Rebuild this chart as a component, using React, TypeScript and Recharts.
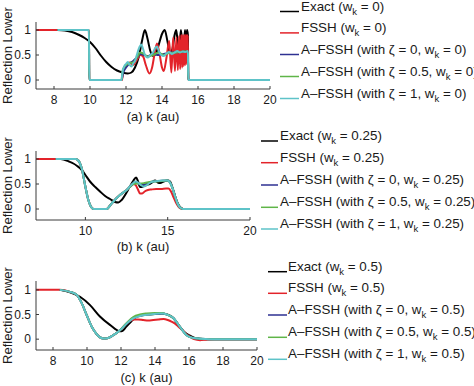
import React from 'react';
import { LineChart, Line, XAxis, YAxis, Label } from 'recharts';

type P = [number, number];

// ---------- Panel (a): w_k = 0 ----------
const exactA: P[] = [
  [8.2, 1], [8.6, 0.99], [9.0, 0.96], [9.4, 0.9], [9.7, 0.84], [10.0, 0.76], [10.3, 0.64], [10.6, 0.49],
  [10.9, 0.36], [11.2, 0.26], [11.5, 0.19], [11.8, 0.15], [12.1, 0.13], [12.3, 0.15], [12.5, 0.25],
  [12.7, 0.45], [12.9, 0.8], [13.05, 1.0], [13.2, 0.82], [13.35, 0.58], [13.5, 0.48], [13.65, 0.52],
  [13.8, 0.68], [14.0, 0.92], [14.15, 1.0], [14.3, 0.78], [14.45, 0.54], [14.58, 0.62], [14.7, 0.9],
  [14.79, 1.0], [14.88, 0.72], [14.95, 0.6], [15.05, 1.0], [15.14, 0.7], [15.2, 0.66], [15.28, 1.0],
  [15.33, 0.7], [15.39, 1.0], [15.44, 0.9], [15.46, 0], [20, 0],
];
const fsshA: P[] = [
  [7, 1], [9.94, 1], [9.96, 0], [11.78, 0], [11.85, 0.2], [12.0, 0.3], [12.2, 0.35], [12.4, 0.3],
  [12.6, 0.4], [12.8, 0.5], [12.95, 0.47], [13.1, 0.3], [13.3, 0.13], [13.45, 0.25], [13.6, 0.55],
  [13.72, 0.73], [13.85, 0.55], [14.0, 0.25], [14.1, 0.18], [14.25, 0.45], [14.4, 0.78], [14.52, 0.15],
  [14.62, 0.85], [14.72, 0.18], [14.8, 0.85], [14.88, 0.2], [14.95, 0.88], [15.01, 0.22], [15.07, 0.9],
  [15.12, 0.25], [15.17, 0.9], [15.21, 0.28], [15.25, 0.9], [15.29, 0.3], [15.32, 0.9], [15.35, 0.32],
  [15.38, 0.9], [15.41, 0.35], [15.43, 0.9], [15.46, 0], [20, 0],
];
const afssh0A: P[] = [
  [8.2, 1], [9.94, 1], [9.96, 0], [11.75, 0], [11.85, 0.15], [12.0, 0.25], [12.2, 0.33], [12.4, 0.38],
  [12.6, 0.45], [12.8, 0.52], [13.0, 0.5], [13.2, 0.48], [13.5, 0.52], [13.8, 0.5], [14.1, 0.52],
  [14.5, 0.55], [15.0, 0.56], [15.44, 0.57], [15.46, 0], [20, 0],
];
const afssh05A: P[] = [
  [8.2, 1], [9.94, 1], [9.96, 0], [11.75, 0], [11.82, 0.2], [12.0, 0.3], [12.2, 0.34], [12.4, 0.35],
  [12.6, 0.45], [12.8, 0.55], [13.0, 0.52], [13.2, 0.47], [13.5, 0.5], [13.8, 0.55], [14.1, 0.5],
  [14.4, 0.54], [14.8, 0.55], [15.2, 0.57], [15.44, 0.57], [15.46, 0], [20, 0],
];
const afssh1A: P[] = [
  [8.2, 1], [9.94, 1], [9.96, 0], [11.75, 0], [11.8, 0.15], [11.9, 0.27], [12.0, 0.32], [12.1, 0.36],
  [12.2, 0.3], [12.3, 0.27], [12.4, 0.33], [12.5, 0.38], [12.6, 0.5], [12.75, 0.66], [12.85, 0.71],
  [12.95, 0.62], [13.05, 0.5], [13.2, 0.45], [13.35, 0.5], [13.5, 0.55], [13.62, 0.64], [13.72, 0.67],
  [13.82, 0.58], [13.95, 0.5], [14.1, 0.48], [14.25, 0.53], [14.4, 0.56], [14.55, 0.52], [14.7, 0.55],
  [14.85, 0.58], [15.0, 0.55], [15.15, 0.57], [15.3, 0.56], [15.44, 0.58], [15.46, 0], [20, 0],
];

// ---------- Panel (b): w_k = 0.25 ----------
const exactB: P[] = [
  [8.2, 1], [8.5, 1.0], [9.0, 0.95], [9.27, 0.91], [9.5, 0.86], [9.78, 0.78], [10.0, 0.68], [10.28, 0.55],
  [10.6, 0.44], [10.89, 0.35], [11.2, 0.26], [11.5, 0.2], [11.8, 0.14], [12.0, 0.13], [12.2, 0.18],
  [12.5, 0.33], [12.7, 0.45], [12.9, 0.56], [13.08, 0.63], [13.2, 0.55], [13.32, 0.44], [13.5, 0.45],
  [13.7, 0.48], [13.9, 0.5], [14.05, 0.53], [14.23, 0.57], [14.4, 0.53], [14.55, 0.52], [14.75, 0.55],
  [15.0, 0.57], [15.14, 0.55], [15.3, 0.42], [15.45, 0.26], [15.6, 0.12], [15.75, 0.04], [15.95, 0], [20, 0],
];
const fsshB: P[] = [
  [7, 1], [9.4, 1], [9.57, 0.97], [9.78, 0.81], [9.98, 0.48], [10.18, 0.18], [10.33, 0.05], [10.5, 0],
  [11.29, 0], [11.5, 0.07], [11.7, 0.15], [11.9, 0.22], [12.1, 0.28], [12.3, 0.33], [12.51, 0.38],
  [12.7, 0.44], [12.91, 0.5], [13.05, 0.48], [13.18, 0.4], [13.32, 0.31], [13.45, 0.31], [13.6, 0.35],
  [13.8, 0.38], [14.0, 0.39], [14.3, 0.4], [14.6, 0.4], [14.9, 0.41], [15.05, 0.41], [15.2, 0.35],
  [15.35, 0.24], [15.5, 0.13], [15.65, 0.05], [15.8, 0.01], [15.95, 0], [20, 0],
];
const afssh0B: P[] = [
  [8.2, 1], [9.4, 1], [9.57, 0.97], [9.78, 0.81], [9.98, 0.48], [10.18, 0.18], [10.33, 0.05], [10.5, 0],
  [11.29, 0], [11.5, 0.07], [11.7, 0.15], [11.9, 0.22], [12.1, 0.28], [12.3, 0.33], [12.51, 0.38],
  [12.7, 0.44], [12.91, 0.5], [13.05, 0.53], [13.3, 0.5], [13.55, 0.49], [13.8, 0.52], [14.1, 0.55],
  [14.5, 0.56], [15.0, 0.57], [15.14, 0.53], [15.3, 0.41], [15.44, 0.26], [15.6, 0.11], [15.75, 0.03],
  [15.95, 0], [20, 0],
];
const afssh05B: P[] = [
  [8.2, 1], [9.4, 1], [9.57, 0.97], [9.78, 0.81], [9.98, 0.48], [10.18, 0.18], [10.33, 0.05], [10.5, 0],
  [11.29, 0], [11.5, 0.07], [11.7, 0.15], [11.9, 0.22], [12.1, 0.28], [12.3, 0.33], [12.51, 0.38],
  [12.7, 0.44], [12.91, 0.5], [13.1, 0.51], [13.35, 0.51], [13.6, 0.52], [13.9, 0.54], [14.2, 0.55],
  [14.6, 0.56], [15.0, 0.57], [15.14, 0.53], [15.3, 0.41], [15.44, 0.26], [15.6, 0.11], [15.75, 0.03],
  [15.95, 0], [20, 0],
];
const afssh1B: P[] = [
  [8.2, 1], [9.4, 1], [9.57, 0.97], [9.78, 0.81], [9.98, 0.48], [10.18, 0.18], [10.33, 0.05], [10.5, 0],
  [11.29, 0], [11.5, 0.07], [11.7, 0.15], [11.9, 0.22], [12.1, 0.28], [12.3, 0.33], [12.51, 0.38],
  [12.7, 0.45], [12.91, 0.52], [13.05, 0.55], [13.2, 0.53], [13.4, 0.47], [13.55, 0.45], [13.7, 0.47],
  [13.9, 0.52], [14.1, 0.55], [14.4, 0.56], [14.7, 0.57], [15.0, 0.57], [15.14, 0.53], [15.3, 0.41],
  [15.44, 0.26], [15.6, 0.11], [15.75, 0.03], [15.95, 0], [20, 0],
];

// ---------- Panel (c): w_k = 0.5 ----------
const exactC: P[] = [
  [8.4, 1], [9.0, 0.95], [9.59, 0.86], [10.18, 0.69], [10.76, 0.46], [11.35, 0.29], [11.94, 0.16],
  [12.1, 0.17], [12.3, 0.25], [12.6, 0.36], [12.9, 0.45], [13.2, 0.48], [13.6, 0.5], [14.0, 0.51],
  [14.4, 0.52], [14.8, 0.49], [15.1, 0.42], [15.4, 0.28], [15.7, 0.15], [16.06, 0.07], [16.3, 0.03],
  [16.6, 0.01], [17.0, 0], [20, 0],
];
const fsshC: P[] = [
  [7, 1], [8.4, 1], [9.0, 0.96], [9.39, 0.9], [9.69, 0.73], [9.98, 0.49], [10.28, 0.25], [10.57, 0.1],
  [10.96, 0.015], [11.2, 0.02], [11.55, 0.08], [11.94, 0.18], [12.34, 0.32], [12.6, 0.38], [12.8, 0.4],
  [13.0, 0.4], [13.3, 0.39], [13.6, 0.38], [13.9, 0.39], [14.2, 0.4], [14.5, 0.41], [14.75, 0.39],
  [15.0, 0.35], [15.27, 0.29], [15.45, 0.23], [15.66, 0.17], [15.85, 0.1], [16.06, 0.05], [16.3, 0.0],
  [16.65, -0.02], [17.0, -0.01], [17.5, 0], [20, 0],
];
const afssh0C: P[] = [
  [8.4, 1], [9.0, 0.96], [9.39, 0.9], [9.69, 0.73], [9.98, 0.49], [10.28, 0.25], [10.57, 0.1],
  [10.96, 0.015], [11.2, 0.02], [11.55, 0.08], [11.94, 0.18], [12.34, 0.32], [12.72, 0.43], [13.12, 0.48],
  [13.7, 0.51], [14.29, 0.52], [14.5, 0.52], [14.69, 0.5], [15.08, 0.43], [15.47, 0.25], [15.86, 0.08],
  [16.25, 0.025], [16.65, 0.01], [17.2, 0], [20, 0],
];
const afssh05C: P[] = [
  [8.4, 1], [9.0, 0.96], [9.39, 0.9], [9.69, 0.73], [9.98, 0.49], [10.28, 0.25], [10.57, 0.1],
  [10.96, 0.015], [11.2, 0.02], [11.55, 0.08], [11.94, 0.18], [12.34, 0.33], [12.72, 0.45], [13.12, 0.5],
  [13.5, 0.52], [14.0, 0.53], [14.4, 0.53], [14.69, 0.5], [15.08, 0.43], [15.47, 0.25], [15.86, 0.08],
  [16.25, 0.025], [16.65, 0.01], [17.2, 0], [20, 0],
];
const afssh1C: P[] = [
  [8.4, 1], [9.0, 0.96], [9.39, 0.9], [9.69, 0.73], [9.98, 0.49], [10.28, 0.25], [10.57, 0.1],
  [10.96, 0.015], [11.2, 0.02], [11.55, 0.08], [11.94, 0.18], [12.34, 0.32], [12.72, 0.42], [13.12, 0.47],
  [13.7, 0.5], [14.29, 0.52], [14.5, 0.52], [14.69, 0.5], [15.08, 0.43], [15.47, 0.25], [15.86, 0.08],
  [16.25, 0.025], [16.65, 0.01], [17.2, 0], [20, 0],
];

// ---------- Axes & legends ----------
const xTicksA = [8, 10, 12, 14, 16, 18, 20];
const xTicksB = [10, 15, 20];
const xTicksC = [8, 10, 12, 14, 16, 18, 20];
const yTicks = [0, 0.5, 1];
const xLabels = ['(a) k (au)', '(b) k (au)', '(c) k (au)'];
const yLabel = 'Reflection Lower';

const legendA = [
  'Exact (w_k = 0)', 'FSSH (w_k = 0)', 'A–FSSH (with ζ = 0, w_k = 0)',
  'A–FSSH (with ζ = 0.5, w_k = 0)', 'A–FSSH (with ζ = 1, w_k = 0)',
];
const legendB = [
  'Exact (w_k = 0.25)', 'FSSH (w_k = 0.25)', 'A–FSSH (with ζ = 0, w_k = 0.25)',
  'A–FSSH (with ζ = 0.5, w_k = 0.25)', 'A–FSSH (with ζ = 1, w_k = 0.25)',
];
const legendC = [
  'Exact (w_k = 0.5)', 'FSSH (w_k = 0.5)', 'A–FSSH (with ζ = 0, w_k = 0.5)',
  'A–FSSH (with ζ = 0.5, w_k = 0.5)', 'A–FSSH (with ζ = 1, w_k = 0.5)',
];

const colors = ['#000000', '#e3232a', '#2e3192', '#5fb548', '#5ec3c8'];
const FONT = '"Liberation Sans", Arial, Helvetica, sans-serif';
const AXIS = '#3a3a3a';

const toRows = (pts: P[]) => pts.map(([k, y]) => ({ k, y }));

type PanelProps = {
  top: number;
  height: number;
  marginTop: number;
  right: number;
  yDomain: [number, number];
  xTicks: number[];
  series: P[][];
  xLabel: string;
  labelOffset: number;
};

function Panel({ top, height, marginTop, right, yDomain, xTicks, series, xLabel, labelOffset }: PanelProps) {
  return (
    <div style={{ position: 'absolute', left: 0, top, width: 474, height }}>
      <LineChart width={474} height={height} margin={{ top: marginTop, right, bottom: 0, left: 0 }}>
        <XAxis
          dataKey="k"
          type="number"
          domain={[7, 20]}
          ticks={xTicks}
          interval={0}
          allowDataOverflow
          height={36}
          tickSize={-3}
          tickMargin={9}
          stroke={AXIS}
          tick={{ fontSize: 12, fill: '#1a1a1a', fontFamily: FONT }}
        >
          <Label value={xLabel} position="insideBottom" offset={labelOffset}
            style={{ fontSize: 13, fill: '#1a1a1a', fontFamily: FONT }} />
        </XAxis>
        <YAxis
          type="number"
          domain={yDomain}
          ticks={yTicks}
          interval={0}
          allowDataOverflow
          width={36}
          tickSize={-3}
          tickMargin={8}
          stroke={AXIS}
          tick={{ fontSize: 12, fill: '#1a1a1a', fontFamily: FONT }}
        >
          <Label value={yLabel} angle={-90} position="insideLeft" offset={7}
            style={{ fontSize: 13, fill: '#1a1a1a', fontFamily: FONT, textAnchor: 'middle' }} />
        </YAxis>
        {series.map((s, i) => (
          <Line
            key={i}
            data={toRows(s)}
            dataKey="y"
            type="monotone"
            stroke={colors[i]}
            strokeWidth={2}
            dot={false}
            activeDot={false}
            isAnimationActive={false}
          />
        ))}
      </LineChart>
    </div>
  );
}

type LegendProps = { labels: string[]; x1: number; x2: number; tx: number; ys: number[] };

function LegendBlock({ labels, x1, x2, tx, ys }: LegendProps) {
  return (
    <g>
      {labels.map((lab, i) => {
        const [pre, post] = lab.split('w_k');
        const y = ys[i];
        return (
          <g key={i}>
            <line x1={x1} x2={x2} y1={y} y2={y} stroke={colors[i]} strokeWidth={1.5} />
            <text x={tx} y={y - 1} fontSize={13.4} fontFamily={FONT} fill="#1a1a1a">
              {pre}w
              <tspan dy={4} fontSize={9.5}>k</tspan>
              <tspan dy={-4}>{post}</tspan>
            </text>
          </g>
        );
      })}
    </g>
  );
}

export default function App() {
  return (
    <div style={{ position: 'absolute', left: 0, top: 0, width: 474, height: 386, background: '#fff', overflow: 'hidden', fontFamily: FONT }}>
      <Panel top={0} height={125} marginTop={22} right={204} yDomain={[-0.18, 1.16]} xTicks={xTicksA}
        series={[exactA, fsshA, afssh0A, afssh05A, afssh1A]} xLabel={xLabels[0]} labelOffset={4} />
      <Panel top={125} height={131} marginTop={26} right={224} yDomain={[-0.22, 1.16]} xTicks={xTicksB}
        series={[exactB, fsshB, afssh0B, afssh05B, afssh1B]} xLabel={xLabels[1]} labelOffset={5} />
      <Panel top={255} height={131} marginTop={26} right={217} yDomain={[-0.22, 1.18]} xTicks={xTicksC}
        series={[exactC, fsshC, afssh0C, afssh05C, afssh1C]} xLabel={xLabels[2]} labelOffset={4} />
      <svg width={474} height={386} style={{ position: 'absolute', left: 0, top: 0, pointerEvents: 'none' }}>
        <LegendBlock labels={legendA} x1={280} x2={299} tx={301} ys={[11.5, 32.9, 54.5, 76.5, 98.5]} />
        <LegendBlock labels={legendB} x1={261} x2={278} tx={280} ys={[141, 162.7, 185, 207.3, 229]} />
        <LegendBlock labels={legendC} x1={268} x2={287} tx={288} ys={[271.7, 293.3, 315, 337.3, 359.3]} />
      </svg>
    </div>
  );
}
